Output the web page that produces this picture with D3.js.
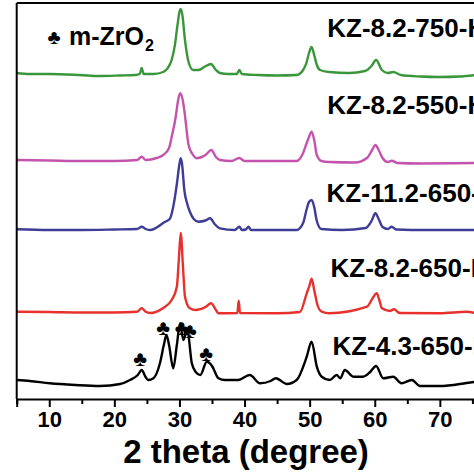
<!DOCTYPE html>
<html>
<head>
<meta charset="utf-8">
<script src="https://cdn.jsdelivr.net/npm/d3@7"></script>
<style>
  body { margin: 0; background: #fff; }
  svg { display: block; }
  .axis path, .axis line { stroke: #000; stroke-width: 2; }
  .axis text { font-family: "Liberation Sans", Arial, sans-serif; font-weight: bold; font-size: 22px; fill: #000; }
  .lbl { font-family: "Liberation Sans", Arial, sans-serif; font-weight: bold; fill: #000; }
</style>
</head>
<body>
<div id="chart"></div>
<script>
// 2 theta (degree) and intensity (a.u., already stacked)
var green_x = [5, 7, 10, 14.7, 17.8, 20.9, 23.2, 23.9, 24.2, 24.5, 26, 27.5, 28.4, 28.8, 29.3, 29.7, 30, 30.2, 30.45, 30.85, 31.4, 32.1, 33, 33.8, 34.85, 35.6, 36.2, 37.5, 38.8, 39.2, 39.6, 42, 45, 48, 49, 49.5, 49.9, 50.3, 50.7, 51.1, 51.6, 53, 56, 58.5, 59.5, 60.2, 61.1, 62, 62.85, 64, 67, 70, 73, 75.5];
var green_y = [326, 325, 325, 324, 323, 323.5, 324, 325, 331, 325, 325, 327, 333, 339, 354, 374, 387, 390, 384, 359, 337, 329, 329, 332, 335, 329, 326, 325, 325, 329, 325, 324, 323.5, 324, 329, 336, 346, 352, 344, 334, 329, 327, 326, 328, 333, 339, 329, 326, 327, 324, 322.5, 322, 322.5, 324];

var magenta_x = [5, 10, 15, 20, 23.5, 24.2, 24.8, 26.5, 27.5, 28.4, 28.8, 29.4, 29.8, 30.1, 30.5, 30.8, 31.4, 32, 32.65, 34, 34.9, 35.6, 36.2, 38, 39.2, 40, 45, 48, 49, 49.55, 49.9, 50.3, 50.7, 51.1, 51.8, 53, 57, 58.8, 59.6, 60.1, 60.6, 61.2, 62, 62.6, 63.5, 67, 72, 75.5];
var magenta_y = [239, 238.5, 238, 238, 239, 242.3, 239, 241, 244, 251, 262, 281, 299, 305.7, 299, 286, 254, 245, 240.7, 244, 249, 242, 239, 238, 241, 238, 238, 238, 246, 256, 262, 267.3, 259, 244, 238, 237, 236.5, 241, 249, 254, 249, 241, 237, 238.3, 236, 235.5, 235.7, 236];

var blue_x = [5, 10, 15, 20, 23.5, 24.2, 24.8, 25.5, 27.8, 28.5, 29.05, 29.6, 30, 30.2, 30.4, 30.75, 31.2, 31.6, 32.2, 32.9, 34, 34.7, 35.4, 36.2, 38.5, 39.2, 39.6, 40.2, 40.6, 41, 45, 48, 49, 49.55, 49.9, 50.3, 50.7, 51.1, 51.8, 55, 58.6, 59.5, 60.1, 60.6, 61.2, 62, 62.6, 63.3, 68, 75.5];
var blue_y = [169.7, 169, 169, 169.5, 170, 172.3, 170, 169, 177.3, 180, 192.3, 215, 235, 240.7, 235, 209, 195, 187.3, 180, 177.3, 178.5, 180.7, 175, 170.7, 169, 172.3, 169, 169.5, 172.3, 169, 169, 169, 176, 190, 197, 199, 192, 178, 170, 169, 171, 178, 185.7, 180, 172, 170, 172.3, 169.5, 169, 169];

var red_x = [5, 10, 15, 20, 23.5, 24.2, 24.8, 25.5, 27.5, 28.8, 29.6, 29.9, 30.2, 30.5, 30.85, 31.6, 32.5, 34, 34.85, 35.6, 36, 38.9, 39.1, 39.3, 45, 48.5, 49.55, 50, 50.3, 50.7, 51.2, 51.85, 53, 58.8, 59.7, 60.3, 60.7, 61.1, 62.3, 62.95, 63.8, 70, 74.1, 75.5];
var red_y = [87.3, 87, 86.5, 86.5, 87.3, 90.7, 87.3, 86, 91, 99, 112.3, 139, 166, 137, 102.3, 90.7, 89, 92, 95.7, 89, 85.7, 86, 98.3, 86, 85.7, 87, 105.7, 114, 120.3, 109, 94, 87.3, 85.7, 92.3, 101, 105.7, 99, 90.7, 88, 89.7, 86, 85.7, 87.3, 86];

var black_x = [5, 7, 10.1, 14, 17.8, 20.9, 22.4, 23.6, 24.2, 24.8, 25.2, 26, 27, 27.6, 28, 28.4, 29.05, 29.6, 30.1, 30.6, 31.2, 31.9, 32.5, 33.2, 34.2, 35, 35.2, 36, 37, 39, 40.8, 42.4, 44, 44.8, 46.5, 48, 49.55, 50.3, 51.1, 51.85, 53.1, 54.15, 54.7, 55.4, 56.7, 58.2, 59.3, 60.2, 61.3, 62.85, 64.1, 65.7, 66.95, 70, 74.1, 75.5];
var black_y = [19, 18, 15.7, 14, 13, 15, 19, 24, 29, 22, 19, 20.7, 35.7, 54, 64, 54, 30.7, 54, 75.7, 59, 69, 35.7, 27, 24, 37.3, 33, 30.7, 20.7, 19, 19, 24, 15.7, 18, 20.7, 15, 19, 42.3, 57.3, 32.3, 22.3, 19, 24, 20.7, 29, 22.3, 22.3, 27, 33, 20.7, 22.3, 15.7, 19, 13, 13, 16, 17.3];

var names = ["KZ-8.2-750-H", "KZ-8.2-550-H", "KZ-11.2-650-H", "KZ-8.2-650-H", "KZ-4.3-650-H"];
var colors = ["#3a963a", "#c453ae", "#3f3c98", "#e8302c", "#000000"];
var labelX = [52.7, 52.7, 52.6, 53.2, 53.5];
var labelY = [362, 285, 197, 122, 44];

// m-ZrO2 reflections marked on KZ-4.3-650-H
var club_x = [23.95, 27.5, 30.35, 31.6, 34.1];
var club_y = [40.3, 72, 71.3, 68.7, 45.3];

var majorTicks = [10, 20, 30, 40, 50, 60, 70];
var minorTicks = [5, 15, 25, 35, 45, 55, 65, 75];

var width = 474, height = 474;
var margin = {left: 16.7, top: 3, bottom: 75};

var svg = d3.select("#chart").append("svg").attr("width", width).attr("height", height);

var xScale = d3.scaleLinear().domain([5, 80]).range([margin.left, margin.left + 75 * 6.51]);
var yScale = d3.scaleLinear().domain([0, 396]).range([height - margin.bottom, margin.top]);

var series = [[green_x, green_y], [magenta_x, magenta_y], [blue_x, blue_y], [red_x, red_y], [black_x, black_y]];

var line = d3.line()
    .x(function(d) { return xScale(d[0]); })
    .y(function(d) { return yScale(d[1]); })
    .curve(d3.curveMonotoneX);

series.forEach(function(s, i) {
  var pts = s[0].map(function(x, j) { return [x, s[1][j]]; });
  svg.append("path")
      .datum(pts)
      .attr("fill", "none")
      .attr("stroke", colors[i])
      .attr("stroke-width", 2.4)
      .attr("stroke-linejoin", "round")
      .attr("d", line);

  // sample names run past the right edge, as in the original crop
  svg.append("text")
      .attr("class", "lbl")
      .attr("x", xScale(labelX[i]))
      .attr("y", yScale(labelY[i]))
      .attr("font-size", "26px")
      .text(names[i]);
});

// frame: left and top
svg.append("line").attr("x1", xScale(5)).attr("x2", xScale(5)).attr("y1", yScale(396)).attr("y2", yScale(0)).attr("stroke", "#000").attr("stroke-width", 2);
svg.append("line").attr("x1", xScale(5)).attr("x2", xScale(80)).attr("y1", yScale(396)).attr("y2", yScale(396)).attr("stroke", "#000").attr("stroke-width", 2);

// x axis
var xAxis = d3.axisBottom(xScale).tickValues(majorTicks).tickSize(8).tickPadding(4).tickFormat(d3.format("d"));
svg.append("g")
    .attr("class", "axis")
    .attr("transform", "translate(0," + yScale(0) + ")")
    .call(xAxis);

var xMinor = d3.axisBottom(xScale).tickValues(minorTicks).tickSize(5).tickFormat("");
svg.append("g")
    .attr("class", "axis")
    .attr("transform", "translate(0," + yScale(0) + ")")
    .call(xMinor)
    .select(".domain").remove();

// club markers
svg.selectAll(".club")
    .data(club_x).enter().append("text")
    .attr("class", "lbl club")
    .attr("x", function(d) { return xScale(d); })
    .attr("y", function(d, i) { return yScale(club_y[i]); })
    .attr("text-anchor", "middle")
    .attr("dominant-baseline", "central")
    .attr("font-family", "DejaVu Sans")
    .attr("font-size", "21px")
    .text("\u2663");

// legend
svg.append("text")
    .attr("class", "lbl")
    .attr("x", 54).attr("y", 37)
    .attr("text-anchor", "middle")
    .attr("dominant-baseline", "central")
    .attr("font-family", "DejaVu Sans")
    .attr("font-size", "20px")
    .text("\u2663");

var leg = svg.append("text")
    .attr("class", "lbl")
    .attr("x", 69).attr("y", 45)
    .attr("font-size", "25px")
    .text("m-ZrO");
leg.append("tspan")
    .attr("font-size", "16px")
    .attr("dy", 6)
    .attr("dx", 1)
    .text("2");

// axis title
svg.append("text")
    .attr("class", "lbl")
    .attr("x", 246).attr("y", 463)
    .attr("text-anchor", "middle")
    .attr("font-size", "33px")
    .text("2 theta (degree)");
</script>
</body>
</html>
